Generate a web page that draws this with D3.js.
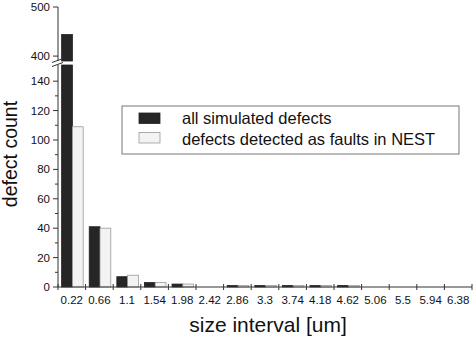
<!DOCTYPE html>
<html>
<head>
<meta charset="utf-8">
<script src="https://cdn.jsdelivr.net/npm/d3@7"></script>
<style>
  body { margin: 0; background: #fff; }
  text { font-family: "Liberation Sans", Arial, sans-serif; fill: #111; }
</style>
</head>
<body>
<script>
// size intervals (x categories)
var categories = ["0.22", "0.66", "1.1", "1.54", "1.98", "2.42", "2.86", "3.3",
                  "3.74", "4.18", "4.62", "5.06", "5.5", "5.94", "6.38"];
// series values
var allDefects = [444, 41, 7, 3, 2, 0, 1, 1, 1, 1, 1, 0, 0, 0, 0];
var detectedDefects = [109, 40, 8, 3, 2, 0, 1, 1, 1, 1, 1, 0, 0, 0, 0];
var seriesNames = ["all simulated defects", "defects detected as faults in NEST"];
// y ticks for the two segments of the broken axis
var lowTicks = [0, 20, 40, 60, 80, 100, 120, 140];
var lowMinor = [10, 30, 50, 70, 90, 110, 130];
var highTicks = [400, 500];

var width = 474, height = 340;
var colors = ["#262626", "#f3f3f3"];

var svg = d3.select("body").append("svg")
            .attr("width", width)
            .attr("height", height);

// x band scale, one band per size interval
var x = d3.scaleBand()
          .domain(categories)
          .range([58, 472])
          .padding(0);
var xs = d3.scaleBand()
           .domain([0, 1])
           .range([0, x.bandwidth()])
           .paddingOuter(0.28)
           .align(0.6);

// broken y axis: lower and upper segments
var yLow = d3.scaleLinear().domain([0, 151]).range([287, 65]);
var yHigh = d3.scaleLinear().domain([390, 500]).range([61, 7]);

var rows = categories.map(function(c, i) {
  return {cat: c, vals: [allDefects[i], detectedDefects[i]]};
});

// bars
var groups = svg.selectAll("g.grp")
                .data(rows)
                .enter().append("g")
                .attr("class", "grp")
                .attr("transform", function(d) { return "translate(" + x(d.cat) + ",0)"; });

groups.each(function(d) {
  var g = d3.select(this);
  d.vals.forEach(function(v, s) {
    var stroke = s == 0 ? "#222" : "#999";
    if (v > 151) {
      // bar crosses the break: draw lower piece and upper piece
      g.append("rect")
       .attr("x", xs(s)).attr("width", xs.bandwidth())
       .attr("y", yLow(151)).attr("height", yLow(0) - yLow(151))
       .attr("fill", colors[s]).attr("stroke", stroke).attr("stroke-width", 0.8);
      g.append("rect")
       .attr("x", xs(s)).attr("width", xs.bandwidth())
       .attr("y", yHigh(v)).attr("height", yHigh(390) - yHigh(v))
       .attr("fill", colors[s]).attr("stroke", stroke).attr("stroke-width", 0.8);
    } else if (v > 0) {
      g.append("rect")
       .attr("x", xs(s)).attr("width", xs.bandwidth())
       .attr("y", yLow(v)).attr("height", yLow(0) - yLow(v))
       .attr("fill", colors[s]).attr("stroke", stroke).attr("stroke-width", 0.8);
    }
  });
});

// y axis lines (with gap at the break)
svg.append("line").attr("x1", 58).attr("x2", 58).attr("y1", yLow(0)).attr("y2", yLow(151))
   .attr("stroke", "#333");
svg.append("line").attr("x1", 58).attr("x2", 58).attr("y1", yHigh(390)).attr("y2", yHigh(500))
   .attr("stroke", "#333");
// break marks
[0, 4].forEach(function(off) {
  svg.append("line")
     .attr("x1", 52).attr("y1", 62.5 + off)
     .attr("x2", 63).attr("y2", 58.5 + off)
     .attr("stroke", "#333").attr("stroke-width", 1);
});

function yTicks(scale, ticks, len, labels) {
  svg.selectAll(null).data(ticks).enter().append("line")
     .attr("x1", 58 - len).attr("x2", 58)
     .attr("y1", function(d) { return scale(d); })
     .attr("y2", function(d) { return scale(d); })
     .attr("stroke", "#333");
  if (labels) {
    svg.selectAll(null).data(ticks).enter().append("text")
       .attr("x", 50)
       .attr("y", function(d) { return scale(d) + 4; })
       .attr("text-anchor", "end")
       .attr("font-size", 11.5)
       .text(function(d) { return d; });
  }
}
yTicks(yLow, lowTicks, 5, true);
yTicks(yLow, lowMinor, 3, false);
yTicks(yHigh, highTicks, 5, true);

// x axis
svg.append("line").attr("x1", 58).attr("x2", 472).attr("y1", 287).attr("y2", 287)
   .attr("stroke", "#333");
var bounds = categories.map(function(c) { return x(c); }).concat([x.range()[1]]);
svg.selectAll(null).data(bounds).enter().append("line")
   .attr("x1", function(d) { return d; }).attr("x2", function(d) { return d; })
   .attr("y1", 284).attr("y2", 290)
   .attr("stroke", "#333");
svg.selectAll(null).data(categories).enter().append("text")
   .attr("x", function(d) { return x(d) + x.bandwidth() / 2; })
   .attr("y", 304)
   .attr("text-anchor", "middle")
   .attr("font-size", 11.5)
   .text(function(d) { return d; });

// axis titles
svg.append("text")
   .attr("transform", "translate(17,154) rotate(-90)")
   .attr("text-anchor", "middle")
   .attr("font-size", 19.5)
   .text("defect count");
svg.append("text")
   .attr("x", 268).attr("y", 332)
   .attr("text-anchor", "middle")
   .attr("font-size", 21)
   .text("size interval [um]");

// legend
var lg = svg.append("g");
lg.append("rect")
  .attr("x", 122).attr("y", 106).attr("width", 337).attr("height", 48)
  .attr("fill", "#fff").attr("stroke", "#777");
seriesNames.forEach(function(name, i) {
  lg.append("rect")
    .attr("x", 139).attr("y", 113 + i * 19.5).attr("width", 21).attr("height", 10.5)
    .attr("fill", colors[i]).attr("stroke", i == 0 ? "#222" : "#999").attr("stroke-width", 0.8);
  lg.append("text")
    .attr("x", 182).attr("y", 123.5 + i * 21.5)
    .attr("font-size", 16.5)
    .text(name);
});
</script>
</body>
</html>
